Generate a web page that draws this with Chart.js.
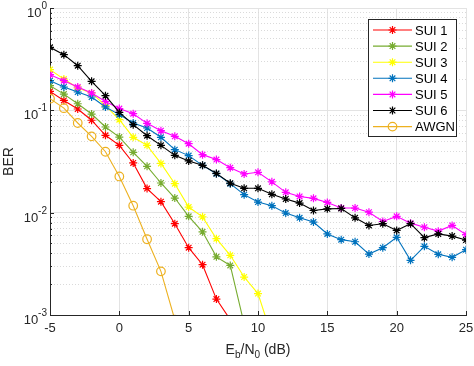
<!DOCTYPE html>
<html>
<head>
<meta charset="utf-8">
<script src="https://cdn.jsdelivr.net/npm/chart.js"></script>
<style>
  html, body { margin: 0; padding: 0; background: #fff; }
  #wrap { width: 474px; height: 366px; }
</style>
</head>
<body>
<div id="wrap"><canvas id="berChart" width="474" height="366"></canvas></div>
<script>
// Eb/N0 grid (dB)
const ebn0 = [-5, -4, -3, -2, -1, 0, 1, 2, 3, 4, 5, 6, 7, 8, 9, 10, 11, 12, 13, 14, 15,
  16, 17, 18, 19, 20, 21, 22, 23, 24, 25];

// BER values (starting at -5 dB)
const sui1 = [0.153, 0.125, 0.103, 0.080, 0.057, 0.0455, 0.0306, 0.0172, 0.0128, 0.0078,
  0.00455, 0.0031, 0.00143, 0.0009];
const sui2 = [0.174, 0.144, 0.116, 0.092, 0.0687, 0.0548, 0.0389, 0.0284, 0.0195, 0.0139,
  0.0092, 0.0065, 0.0037, 0.00305, 0.00082];
const sui3 = [0.25, 0.202, 0.165, 0.148, 0.111, 0.081, 0.0545, 0.0455, 0.0303, 0.0192,
  0.01135, 0.0091, 0.00557, 0.00383, 0.00235, 0.00162, 0.00062];
const sui4 = [0.195, 0.169, 0.151, 0.135, 0.108, 0.0908, 0.0752, 0.0672, 0.0545, 0.0413,
  0.0361, 0.029, 0.024, 0.0192, 0.015, 0.0127, 0.0117, 0.0099, 0.0089, 0.0081,
  0.0062, 0.00545, 0.0052, 0.00394, 0.00455, 0.00574, 0.00342, 0.00469, 0.00392, 0.00366, 0.00435];
const sui5 = [0.223, 0.195, 0.169, 0.148, 0.122, 0.104, 0.0927, 0.0746, 0.0633, 0.0557,
  0.0472, 0.0369, 0.033, 0.0275, 0.0239, 0.0248, 0.020, 0.0158, 0.0144, 0.0138,
  0.0126, 0.0111, 0.0111, 0.0101, 0.0082, 0.0092, 0.0079, 0.0072, 0.0066, 0.0075, 0.0061];
const sui6 = [0.413, 0.35, 0.273, 0.192, 0.139, 0.0955, 0.0724, 0.0565, 0.0455, 0.0363,
  0.032, 0.029, 0.0242, 0.0194, 0.0173, 0.0173, 0.0151, 0.0136, 0.0124, 0.0105,
  0.0109, 0.011, 0.0089, 0.0075, 0.0078, 0.0067, 0.0078, 0.0057, 0.0062, 0.0059, 0.0054];
const awgn = [0.13, 0.105, 0.0752, 0.0557, 0.0394, 0.0226, 0.0117, 0.0055, 0.00267, 0.0009];

const seriesNames = ['SUI 1', 'SUI 2', 'SUI 3', 'SUI 4', 'SUI 5', 'SUI 6', 'AWGN'];
const seriesColors = ['#ff0000', '#77ac30', '#ffff00', '#0072bd', '#ff00ff', '#000000', '#edb120'];
const seriesValues = [sui1, sui2, sui3, sui4, sui5, sui6, awgn];

const xTicks = [-5, 0, 5, 10, 15, 20, 25];
const yDecades = [1, 0.1, 0.01, 0.001];

const FONT = '"Liberation Sans", Arial, Helvetica, sans-serif';
const AXIS_COLOR = '#262626';

function isDecade(v) {
  const l = Math.log10(v);
  return Math.abs(l - Math.round(l)) < 1e-6;
}

const datasets = seriesValues.map((vals, i) => ({
  label: seriesNames[i],
  data: vals.map((v, k) => ({ x: ebn0[k], y: v })),
  borderColor: seriesColors[i],
  backgroundColor: i === 6 ? 'rgba(0,0,0,0)' : seriesColors[i],
  borderWidth: 1.1,
  pointStyle: i === 6 ? 'circle' : 'star',
  pointRadius: i === 6 ? 4.3 : 4,
  pointBorderWidth: 1.2,
  pointBorderColor: seriesColors[i],
  pointBackgroundColor: i === 6 ? 'rgba(0,0,0,0)' : seriesColors[i],
  tension: 0,
  order: 7 - i,
}));

// inward ticks, superscript y labels, axis titles and legend box
const decorPlugin = {
  id: 'decor',
  afterDraw(chart) {
    const ctx = chart.ctx;
    const xs = chart.scales.x, ys = chart.scales.y;
    const a = chart.chartArea;
    ctx.save();
    ctx.strokeStyle = AXIS_COLOR;
    ctx.lineWidth = 1;
    // x ticks (inside)
    xTicks.forEach(v => {
      const px = Math.round(xs.getPixelForValue(v)) + 0.5;
      ctx.beginPath();
      ctx.moveTo(px, a.bottom);
      ctx.lineTo(px, a.bottom - 4);
      ctx.stroke();
    });
    // y ticks (inside)
    ys.ticks.forEach(t => {
      const py = Math.round(ys.getPixelForValue(t.value)) + 0.5;
      const len = isDecade(t.value) ? 4 : 2;
      ctx.beginPath();
      ctx.moveTo(a.left, py);
      ctx.lineTo(a.left + len, py);
      ctx.stroke();
    });
    // y labels 10^n
    ctx.fillStyle = AXIS_COLOR;
    yDecades.forEach(v => {
      const py = ys.getPixelForValue(v);
      const exp = String(Math.round(Math.log10(v)));
      ctx.font = '10px ' + FONT;
      const ew = ctx.measureText(exp).width;
      ctx.textAlign = 'left';
      ctx.textBaseline = 'alphabetic';
      const right = a.left - 3;
      ctx.fillText(exp, right - ew, py + 1);
      ctx.font = '13px ' + FONT;
      ctx.textAlign = 'right';
      ctx.fillText('10', right - ew, py + 9);
    });
    // y title
    ctx.save();
    ctx.translate(13, (a.top + a.bottom) / 2);
    ctx.rotate(-Math.PI / 2);
    ctx.font = '14px ' + FONT;
    ctx.textAlign = 'center';
    ctx.textBaseline = 'alphabetic';
    ctx.fillText('BER', 0, 0);
    ctx.restore();
    // x title with subscripts
    const parts = [
      { t: 'E', s: 14, dy: 0 },
      { t: 'b', s: 10, dy: 4 },
      { t: '/N', s: 14, dy: 0 },
      { t: '0', s: 10, dy: 4 },
      { t: ' (dB)', s: 14, dy: 0 },
    ];
    let total = 0;
    parts.forEach(p => { ctx.font = p.s + 'px ' + FONT; p.w = ctx.measureText(p.t).width; total += p.w; });
    let x0 = (a.left + a.right) / 2 - total / 2;
    const base = 354;
    ctx.textAlign = 'left';
    parts.forEach(p => {
      ctx.font = p.s + 'px ' + FONT;
      ctx.fillText(p.t, x0, base + p.dy);
      x0 += p.w;
    });
    // legend
    const lx = 368, ly = 19, lw = 88, lh = 117;
    ctx.fillStyle = '#ffffff';
    ctx.fillRect(lx, ly, lw, lh);
    ctx.strokeStyle = '#262626';
    ctx.lineWidth = 1;
    ctx.strokeRect(lx + 0.5, ly + 0.5, lw, lh);
    chart.data.datasets.forEach((ds, i) => {
      const cy = 30 + i * 16.1;
      ctx.strokeStyle = ds.borderColor;
      ctx.lineWidth = 1.1;
      ctx.beginPath();
      ctx.moveTo(373, cy);
      ctx.lineTo(412, cy);
      ctx.stroke();
      ctx.fillStyle = ds.pointBackgroundColor;
      ctx.strokeStyle = ds.pointBorderColor;
      ctx.lineWidth = 1.2;
      Chart.helpers.drawPoint(ctx, {
        pointStyle: ds.pointStyle,
        radius: ds.pointRadius,
        borderWidth: 1.2,
        rotation: 0,
      }, 392.5, cy);
      ctx.fillStyle = '#000000';
      ctx.font = '13px ' + FONT;
      ctx.textAlign = 'left';
      ctx.textBaseline = 'middle';
      ctx.fillText(ds.label, 415, cy + 1);
    });
    ctx.restore();
  }
};

new Chart(document.getElementById('berChart'), {
  type: 'line',
  data: { datasets },
  plugins: [decorPlugin],
  options: {
    responsive: false,
    animation: false,
    layout: { padding: { top: 8, right: 8, left: 0, bottom: 0 } },
    plugins: { legend: { display: false }, tooltip: { enabled: false } },
    scales: {
      x: {
        type: 'linear',
        min: -5,
        max: 25,
        afterBuildTicks: s => { s.ticks = xTicks.map(v => ({ value: v })); },
        afterFit: s => { s.height = 51; s.paddingLeft = 0; s.paddingRight = 0; },
        ticks: {
          font: { family: FONT, size: 13 },
          color: AXIS_COLOR,
          padding: 6,
          maxRotation: 0,
          autoSkip: false,
        },
        grid: { color: '#e3e3e3', lineWidth: 1, drawTicks: false },
        border: { color: AXIS_COLOR, width: 1 },
      },
      y: {
        type: 'logarithmic',
        min: 0.001,
        max: 1,
        afterBuildTicks: s => {
          const t = [];
          [0.001, 0.01, 0.1].forEach(d => { for (let m = 1; m < 10; m++) t.push({ value: +(m * d).toPrecision(3) }); });
          t.push({ value: 1 });
          s.ticks = t;
        },
        afterFit: s => { s.width = 50; s.paddingTop = 0; s.paddingBottom = 0; },
        ticks: { display: false },
        grid: {
          drawTicks: false,
          color: c => (c.tick && isDecade(c.tick.value)) ? '#e3e3e3' : '#dadada',
          lineWidth: 1,
        },
        border: {
          color: AXIS_COLOR,
          width: 1,
          dash: c => (c.tick && !isDecade(c.tick.value)) ? [1, 2] : [],
        },
      },
    },
  },
});
</script>
</body>
</html>
